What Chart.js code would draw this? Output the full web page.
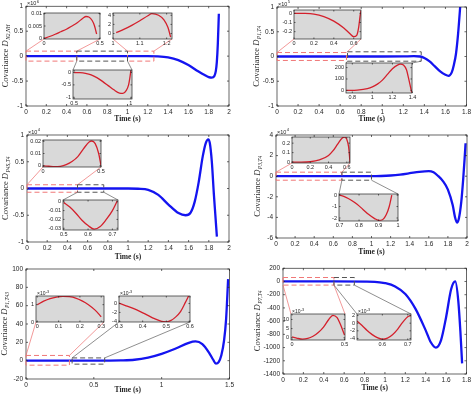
<!DOCTYPE html>
<html>
<head>
<meta charset="utf-8">
<script src="https://cdn.jsdelivr.net/npm/chart.js@4.4.1/dist/chart.umd.min.js"></script>
<style>
  body { margin: 0; background: #fff; width: 474px; height: 395px; overflow: hidden; position: relative; }
  canvas { position: absolute; }
</style>
</head>
<body>
<script>
// ---- main curves ----
const p1X = [0, 0.5, 1.0, 1.2, 1.3, 1.4, 1.5, 1.6, 1.7, 1.76, 1.8, 1.83, 1.855, 1.87, 1.88, 1.89, 1.9];
const p1Y = [0, 0, 0, 0, -0.004, -0.025, -0.08, -0.18, -0.31, -0.38, -0.42, -0.43, -0.40, -0.3, -0.12, 0.25, 0.85];
const p2X = [0, 0.5, 1.0, 1.2, 1.3, 1.36, 1.4, 1.45, 1.5, 1.55, 1.6, 1.63, 1.66, 1.68, 1.70, 1.72, 1.74, 1.76];
const p2Y = [0, 0, 0, 0.003, 0.006, 0, -0.03, -0.1, -0.2, -0.3, -0.37, -0.39, -0.32, -0.17, 0.05, 0.45, 1.0, 1.6];
const p3X = [0, 0.5, 1.0, 1.1, 1.2, 1.3, 1.4, 1.5, 1.57, 1.62, 1.66, 1.7, 1.74, 1.77, 1.795, 1.81, 1.83, 1.85, 1.865, 1.88];
const p3Y = [0, 0, 0, -0.005, -0.025, -0.12, -0.3, -0.46, -0.5, -0.45, -0.25, 0.12, 0.6, 0.85, 0.92, 0.85, 0.5, -0.1, -0.5, -0.9];
const p4X = [0, 0.5, 1.0, 1.1, 1.2, 1.3, 1.4, 1.5, 1.6, 1.65, 1.7, 1.75, 1.8, 1.85, 1.875, 1.895, 1.915, 1.94, 1.96, 1.975, 1.985];
const p4Y = [0, 0, 0, 0.02, 0.07, 0.16, 0.29, 0.43, 0.5, 0.38, 0, -0.5, -1.3, -2.8, -4.0, -4.5, -4.1, -2.5, -0.3, 1.7, 3.2];
const p5X = [0, 0.5, 0.7, 0.8, 0.9, 1.0, 1.1, 1.2, 1.25, 1.3, 1.35, 1.38, 1.4, 1.42, 1.44, 1.46, 1.475, 1.49];
const p5Y = [0, 0, 0.3, 1.0, 3.4, 7.5, 13, 19.5, 21, 18, 8.5, 1, -3.2, -1.5, 6, 22, 45, 89];
const p6X = [0, 0.5, 0.9, 1.0, 1.1, 1.2, 1.3, 1.4, 1.45, 1.5, 1.55, 1.6, 1.65, 1.69, 1.72, 1.74, 1.757];
const p6Y = [0, 0, -5, -25, -75, -190, -415, -740, -920, -1000, -890, -540, -115, 0, -300, -750, -1240];

// ---- main axis ticks ----
const ticks0to2 = [0, 0.2, 0.4, 0.6, 0.8, 1, 1.2, 1.4, 1.6, 1.8, 2];
const ticks0to18 = [0, 0.2, 0.4, 0.6, 0.8, 1, 1.2, 1.4, 1.6, 1.8];
const ticks0to15 = [0, 0.5, 1, 1.5];
const ticksUnit = [-1, -0.5, 0, 0.5, 1];
const ticksP4 = [-6, -4, -2, 0, 2, 4];
const ticksP5 = [-20, 0, 20, 40, 60, 80, 100];
const ticksP6 = [-1400, -1200, -1000, -800, -600, -400, -200, 0, 200];

// ---- inset curves ----
const insA_X = [0, 0.05, 0.1, 0.15, 0.2, 0.25, 0.3, 0.35, 0.375, 0.4, 0.43, 0.45, 0.47];
const insA_Y = [0, 0.0008, 0.0017, 0.0027, 0.0037, 0.005, 0.0064, 0.0082, 0.0088, 0.0086, 0.0072, 0.0052, 0.0018];
const insB_X = [1.012, 1.04, 1.07, 1.1, 1.13, 1.145, 1.17, 1.19, 1.205, 1.215];
const insB_Y = [0.2, 0.9, 1.8, 2.8, 3.9, 4.35, 4.0, 3.0, 1.3, -0.8];
const insC_X = [0.5, 0.55, 0.6, 0.65, 0.7, 0.75, 0.8, 0.85, 0.9, 0.93, 0.96, 0.98, 0.99, 1.0];
const insC_Y = [0, -0.01, -0.04, -0.1, -0.21, -0.36, -0.53, -0.7, -0.83, -0.84, -0.72, -0.5, -0.25, 0.08];
const insD_X = [0, 0.1, 0.2, 0.3, 0.4, 0.5, 0.56, 0.6, 0.63, 0.65, 0.665, 0.673];
const insD_Y = [0, -0.001, -0.008, -0.035, -0.085, -0.16, -0.22, -0.255, -0.24, -0.15, -0.02, 0.03];
const insE_X = [0.74, 0.85, 0.95, 1.0, 1.05, 1.1, 1.15, 1.2, 1.25, 1.28, 1.31, 1.34, 1.36, 1.38, 1.392];
const insE_Y = [0, 3, 15, 30, 55, 90, 140, 190, 222, 230, 222, 180, 110, 30, -20];
const insF_X = [0, 0.05, 0.1, 0.15, 0.2, 0.25, 0.3, 0.35, 0.4, 0.42, 0.45, 0.48, 0.5];
const insF_Y = [0, -0.0004, -0.0008, -0.0004, 0.001, 0.0035, 0.0075, 0.014, 0.0195, 0.0202, 0.018, 0.01, 0];
const insG_X = [0.5, 0.525, 0.55, 0.575, 0.6, 0.625, 0.65, 0.675, 0.7, 0.72];
const insG_Y = [-0.001, -0.006, -0.013, -0.021, -0.027, -0.031, -0.028, -0.02, -0.01, 0.001];
const insH_X = [0, 0.1, 0.2, 0.3, 0.4, 0.45, 0.5, 0.55, 0.575, 0.6, 0.62, 0.635];
const insH_Y = [0, 0, 0.003, 0.022, 0.07, 0.12, 0.19, 0.255, 0.265, 0.24, 0.16, 0];
const insI_X = [0.7, 0.73, 0.76, 0.79, 0.82, 0.85, 0.88, 0.9, 0.92, 0.94, 0.955, 0.968];
const insI_Y = [0, -0.18, -0.45, -0.8, -1.25, -1.7, -2.05, -2.2, -2.15, -1.7, -1.0, 0];
const insJ_X = [0, 0.03, 0.06, 0.09, 0.12, 0.15, 0.18, 0.21, 0.24, 0.27, 0.3];
const insJ_Y = [1.0, 1.2, 1.35, 1.44, 1.48, 1.46, 1.38, 1.22, 1.0, 0.7, 0.3];
const insK_X = [0.3, 0.33, 0.36, 0.39, 0.42, 0.45, 0.48, 0.5, 0.52, 0.54, 0.56, 0.58, 0.595];
const insK_Y = [0.1, -0.5, -1.1, -1.8, -2.6, -3.4, -4.0, -4.1, -3.8, -3.0, -1.8, 0.2, 1.8];
const insL_X = [0, 0.05, 0.1, 0.15, 0.2, 0.25, 0.3, 0.35, 0.39, 0.43, 0.46, 0.5];
const insL_Y = [0.5, -0.3, -0.8, -0.4, 0.8, 2.8, 5.8, 10, 12.3, 11, 7.5, 1.5];
const insM_X = [0.5, 0.52, 0.54, 0.56, 0.58, 0.6, 0.62, 0.64, 0.66, 0.68, 0.7, 0.713];
const insM_Y = [0.6, -0.6, -1.9, -3.0, -3.8, -4.2, -3.9, -3.0, -1.6, 0.2, 1.7, 2.0];

const SANS = '"Liberation Sans", Arial, sans-serif';
const SERIF = '"Liberation Serif", "Times New Roman", serif';
const INK = '#262626';
const RED_BOX = '#f07878', GRAY_BOX = '#555555';

function pts(xs, ys) { return xs.map((x, i) => ({ x: x, y: ys[i] })); }
function fmt(v) { return String(Math.round(v * 1e6) / 1e6); }

function addCanvas(x, y, w, h) {
  const cv = document.createElement('canvas');
  cv.width = w; cv.height = h;
  cv.style.left = x + 'px'; cv.style.top = y + 'px';
  document.body.appendChild(cv);
  return cv;
}

function axisOpts(min, max, list, font, pad, fit) {
  return {
    type: 'linear', min: min, max: max,
    grid: { display: false, drawTicks: false },
    border: { display: false },
    ticks: { font: font, color: INK, padding: pad, autoSkip: false, maxRotation: 0, minRotation: 0, callback: fmt },
    afterBuildTicks: s => { s.ticks = list.map(v => ({ value: v })); },
    afterFit: fit
  };
}

function drawFrame(chart, len) {
  const { ctx, chartArea: ca, scales: { x, y } } = chart;
  ctx.strokeStyle = INK; ctx.lineWidth = 0.7;
  ctx.strokeRect(ca.left, ca.top, ca.right - ca.left, ca.bottom - ca.top);
  ctx.beginPath();
  x.ticks.forEach(t => {
    const px = x.getPixelForValue(t.value);
    ctx.moveTo(px, ca.bottom); ctx.lineTo(px, ca.bottom - len);
    ctx.moveTo(px, ca.top); ctx.lineTo(px, ca.top + len);
  });
  y.ticks.forEach(t => {
    const py = y.getPixelForValue(t.value);
    ctx.moveTo(ca.left, py); ctx.lineTo(ca.left + len, py);
    ctx.moveTo(ca.right, py); ctx.lineTo(ca.right - len, py);
  });
  ctx.stroke();
}

function drawExp(ctx, x, y, base, sup, size) {
  ctx.fillStyle = INK; ctx.textBaseline = 'alphabetic';
  ctx.font = size + 'px ' + SANS;
  ctx.fillText(base, x, y);
  const w = ctx.measureText(base).width;
  ctx.font = (size * 0.75) + 'px ' + SANS;
  ctx.fillText(sup, x + w + 0.3, y - size * 0.4);
}

function drawYTitle(ctx, x, y, sub) {
  ctx.save();
  ctx.translate(x, y); ctx.rotate(-Math.PI / 2);
  const f1 = '8.5px ' + SERIF, f2 = 'italic 8.5px ' + SERIF, f3 = 'italic 5.5px ' + SERIF;
  ctx.font = f1; const w1 = ctx.measureText('Covariance ').width;
  ctx.font = f2; const w2 = ctx.measureText('D').width;
  ctx.font = f3; const w3 = ctx.measureText(sub).width;
  let cx = -(w1 + w2 + w3) / 2;
  ctx.textBaseline = 'middle'; ctx.fillStyle = INK;
  ctx.font = f1; ctx.fillText('Covariance ', cx, 0); cx += w1;
  ctx.font = f2; ctx.fillText('D', cx, 0); cx += w2;
  ctx.font = f3; ctx.fillText(sub, cx + 0.5, 2.5);
  ctx.restore();
}

// ---- inset boxes (page pixels) ----
const INSETS = {
  A: { box: { l: 44, t: 13, r: 100, b: 39 }, xs: insA_X, ys: insA_Y, x: [0, 0.5], y: [-0.0002, 0.0102], xt: [0, 0.5], yt: [0, 0.005, 0.01] },
  B: { box: { l: 113, t: 13, r: 172, b: 39 }, xs: insB_X, ys: insB_Y, x: [1, 1.22], y: [-1.2, 4.5], xt: [1, 1.1, 1.2], yt: [0, 2, 4] },
  C: { box: { l: 73, t: 70, r: 132, b: 99 }, xs: insC_X, ys: insC_Y, x: [0.49, 1.01], y: [-1.07, 0.1], xt: [0.5, 1], yt: [-1, -0.5, 0] },
  D: { box: { l: 294, t: 10, r: 361, b: 39 }, xs: insD_X, ys: insD_Y, x: [0, 0.673], y: [-0.28, 0.036], xt: [0, 0.2, 0.4, 0.6], yt: [-0.2, -0.1, 0] },
  E: { box: { l: 346, t: 63, r: 412, b: 93 }, xs: insE_X, ys: insE_Y, x: [0.737, 1.395], y: [-23, 240], xt: [0.8, 1, 1.2, 1.4], yt: [0, 100, 200] },
  F: { box: { l: 43, t: 140, r: 101, b: 167 }, xs: insF_X, ys: insF_Y, x: [0, 0.5], y: [-0.001, 0.021], xt: [0, 0.5], yt: [0, 0.01, 0.02] },
  G: { box: { l: 63, t: 200, r: 118, b: 230 }, xs: insG_X, ys: insG_Y, x: [0.497, 0.723], y: [-0.032, 0.002], xt: [0.5, 0.6, 0.7], yt: [-0.03, -0.02, -0.01, 0] },
  H: { box: { l: 292, t: 137, r: 350, b: 163 }, xs: insH_X, ys: insH_Y, x: [0, 0.635], y: [-0.01, 0.265], xt: [0, 0.2, 0.4, 0.6], yt: [0, 0.1, 0.2] },
  I: { box: { l: 339, t: 194, r: 398, b: 221 }, xs: insI_X, ys: insI_Y, x: [0.697, 1.0], y: [-2.26, 0.09], xt: [0.7, 0.8, 0.9, 1], yt: [-2, -1, 0] },
  J: { box: { l: 36, t: 296, r: 104, b: 322 }, xs: insJ_X, ys: insJ_Y, x: [-0.006, 0.313], y: [0, 1.5], xt: [0, 0.1, 0.2, 0.3], yt: [0, 1], exp: '-3' },
  K: { box: { l: 119, t: 296, r: 190, b: 322 }, xs: insK_X, ys: insK_Y, x: [0.3, 0.6], y: [-4.15, 1.7], xt: [0.3, 0.4, 0.5, 0.6], yt: [-4, -2, 0], exp: '-3' },
  L: { box: { l: 291, t: 314, r: 345, b: 340 }, xs: insL_X, ys: insL_Y, x: [-0.01, 0.505], y: [-1.25, 13], xt: [0, 0.5], yt: [0, 5, 10], exp: '-3' },
  M: { box: { l: 357, t: 314, r: 411, b: 340 }, xs: insM_X, ys: insM_Y, x: [0.5, 0.713], y: [-4.4, 2.4], xt: [0.6, 0.7], yt: [-4, -2, 0, 2], exp: '-3' }
};

// ---- main panels ----
const PANELS = [
  { c: [0, 0, 237, 128], area: { l: 26, t: 6, r: 229, b: 106 }, xs: p1X, ys: p1Y, x: [0, 2], y: [-1, 1], xt: ticks0to2, yt: ticksUnit,
    sub: 'N2,NH', titleX: 6, xTitleDy: 13, exp: '6',
    zooms: [
      { x0: 0, x1: 0.5, y0: -0.1, y1: 0.1, color: RED_BOX, from: 'top', inset: 'A' },
      { x0: 1.0, x1: 1.26, y0: -0.1, y1: 0.1, color: RED_BOX, from: 'top', inset: 'B' },
      { x0: 0.5, x1: 1.0, y0: -0.1, y1: 0.1, color: GRAY_BOX, from: 'bottom', inset: 'C' }] },
  { c: [240, 0, 234, 128], area: { l: 277, t: 7, r: 467, b: 106 }, xs: p2X, ys: p2Y, x: [0, 1.8], y: [-1, 1], xt: ticks0to18, yt: ticksUnit,
    sub: 'P1,T4', titleX: 257, xTitleDy: 13, exp: '5',
    zooms: [
      { x0: 0, x1: 0.66, y0: -0.08, y1: 0.08, color: RED_BOX, from: 'top', inset: 'D' },
      { x0: 0.67, x1: 1.37, y0: -0.095, y1: 0.095, color: GRAY_BOX, from: 'bottom', inset: 'E' }] },
  { c: [0, 128, 237, 134], area: { l: 27, t: 135, r: 229, b: 242 }, xs: p3X, ys: p3Y, x: [0, 2], y: [-1, 1], xt: ticks0to2, yt: ticksUnit,
    sub: 'P4S,T4', titleX: 6, xTitleDy: 15, exp: '4',
    zooms: [
      { x0: 0, x1: 0.5, y0: -0.07, y1: 0.07, color: RED_BOX, from: 'top', inset: 'F' },
      { x0: 0.5, x1: 0.76, y0: -0.07, y1: 0.07, color: GRAY_BOX, from: 'bottom', inset: 'G' }] },
  { c: [240, 128, 234, 134], area: { l: 276, t: 135, r: 467, b: 238 }, xs: p4X, ys: p4Y, x: [0, 2], y: [-6, 4], xt: ticks0to2, yt: ticksP4,
    sub: 'P3,T4', titleX: 258, xTitleDy: 14, exp: '4',
    zooms: [
      { x0: 0, x1: 0.69, y0: -0.39, y1: 0.39, color: RED_BOX, from: 'top', inset: 'H' },
      { x0: 0.69, x1: 1.0, y0: -0.39, y1: 0.39, color: GRAY_BOX, from: 'bottom', inset: 'I' }] },
  { c: [0, 262, 237, 133], area: { l: 26, t: 269, r: 230, b: 379 }, xs: p5X, ys: p5Y, x: [0, 1.5], y: [-20, 100], xt: ticks0to15, yt: ticksP5,
    sub: 'P1,T43', titleX: 5, xTitleDy: 11,
    zooms: [
      { x0: 0, x1: 0.32, y0: -4.9, y1: 5.7, color: RED_BOX, from: 'top', inset: 'J' },
      { x0: 0.34, x1: 0.58, y0: -3.8, y1: 3, color: GRAY_BOX, from: 'top', inset: 'K' }] },
  { c: [240, 262, 234, 133], area: { l: 283, t: 268, r: 468, b: 374 }, xs: p6X, ys: p6Y, x: [0, 1.8], y: [-1400, 200], xt: ticks0to18, yt: ticksP6,
    sub: 'P7,T4', titleX: 258, xTitleDy: 14,
    zooms: [
      { x0: 0, x1: 0.5, y0: -55, y1: 60, color: RED_BOX, from: 'bottom', inset: 'L' },
      { x0: 0.5, x1: 0.7, y0: -55, y1: 60, color: GRAY_BOX, from: 'bottom', inset: 'M' }] }
];

const mainFont = { family: SANS, size: 6.5, lineHeight: 1 };
const insetFont = { family: SANS, size: 5.5, lineHeight: 1 };

function mainDecor(p) {
  return {
    id: 'mainDecor',
    afterDatasetsDraw(chart) {
      const { ctx, chartArea: ca, scales: { x, y } } = chart;
      const ox = p.c[0], oy = p.c[1];
      ctx.save();
      drawFrame(chart, 2);
      p.zooms.forEach(z => {
        const xa = x.getPixelForValue(z.x0), xb = x.getPixelForValue(z.x1);
        const ya = y.getPixelForValue(z.y1), yb = y.getPixelForValue(z.y0);
        // links to the inset box
        const bx = INSETS[z.inset].box;
        const ey = z.from === 'top' ? ya : yb;
        const iy = (z.from === 'top' ? bx.b : bx.t) - oy;
        ctx.setLineDash([]);
        ctx.strokeStyle = z.color === RED_BOX ? '#ec6d6d' : '#5f5f5f';
        ctx.lineWidth = 0.7;
        ctx.beginPath();
        ctx.moveTo(xa, ey); ctx.lineTo(bx.l - ox, iy);
        ctx.moveTo(xb, ey); ctx.lineTo(bx.r - ox, iy);
        ctx.stroke();
        // dashed window
        ctx.setLineDash([5, 3]);
        ctx.strokeStyle = z.color; ctx.lineWidth = 1;
        ctx.strokeRect(xa, ya, xb - xa, yb - ya);
      });
      ctx.setLineDash([]);
      if (p.exp) drawExp(ctx, ca.left + 1, ca.top - 1.5, '\u00d710', p.exp, 5.5);
      drawYTitle(ctx, p.titleX - ox, (ca.top + ca.bottom) / 2, p.sub);
      ctx.fillStyle = INK; ctx.font = 'bold 7.5px ' + SERIF;
      ctx.textAlign = 'center'; ctx.textBaseline = 'middle';
      ctx.fillText('Time (s)', (ca.left + ca.right) / 2, ca.bottom + p.xTitleDy);
      ctx.restore();
    }
  };
}

function makeMain(p) {
  const [cx, cy, cw, ch] = p.c;
  const a = p.area;
  const yw = a.l - cx, xh = cy + ch - a.b;
  const cv = addCanvas(cx, cy, cw, ch);
  new Chart(cv, {
    type: 'line',
    data: { datasets: [{ data: pts(p.xs, p.ys), borderColor: '#1414f0', borderWidth: 2.3, pointRadius: 0, cubicInterpolationMode: 'monotone', fill: false }] },
    options: {
      responsive: false, animation: false, events: [],
      layout: { padding: { left: 0, top: a.t - cy, right: cx + cw - a.r, bottom: 0 } },
      plugins: { legend: { display: false }, tooltip: { enabled: false } },
      scales: {
        x: axisOpts(p.x[0], p.x[1], p.xt, mainFont, 3, s => { s.height = xh; }),
        y: axisOpts(p.y[0], p.y[1], p.yt, mainFont, 3, s => { s.width = yw; })
      }
    },
    plugins: [mainDecor(p)]
  });
}

function insetDecor(s) {
  return {
    id: 'insetDecor',
    beforeDatasetsDraw(chart) {
      const { ctx, chartArea: ca } = chart;
      ctx.save();
      ctx.fillStyle = '#d9d9d9';
      ctx.fillRect(ca.left, ca.top, ca.right - ca.left, ca.bottom - ca.top);
      ctx.restore();
    },
    afterDatasetsDraw(chart) {
      const { ctx, chartArea: ca } = chart;
      ctx.save();
      drawFrame(chart, 1.5);
      if (s.exp) drawExp(ctx, ca.left + 1, ca.top - 1.5, '\u00d710', s.exp, 5);
      ctx.restore();
    }
  };
}

function makeInset(key) {
  const s = INSETS[key], b = s.box;
  const yw = 22, pt = 8, xh = 10, pr = 8;
  const cv = addCanvas(b.l - yw, b.t - pt, b.r - b.l + yw + pr, b.b - b.t + pt + xh);
  new Chart(cv, {
    type: 'line',
    data: { datasets: [{ data: pts(s.xs, s.ys), borderColor: '#d4202c', borderWidth: 1.3, pointRadius: 0, cubicInterpolationMode: 'monotone', fill: false }] },
    options: {
      responsive: false, animation: false, events: [],
      layout: { padding: { left: 0, top: pt, right: pr, bottom: 0 } },
      plugins: { legend: { display: false }, tooltip: { enabled: false } },
      scales: {
        x: axisOpts(s.x[0], s.x[1], s.xt, insetFont, 2, sc => { sc.height = xh; }),
        y: axisOpts(s.y[0], s.y[1], s.yt, insetFont, 2, sc => { sc.width = yw; })
      }
    },
    plugins: [insetDecor(s)]
  });
}

PANELS.forEach(makeMain);
Object.keys(INSETS).forEach(makeInset);
</script>
</body>
</html>
